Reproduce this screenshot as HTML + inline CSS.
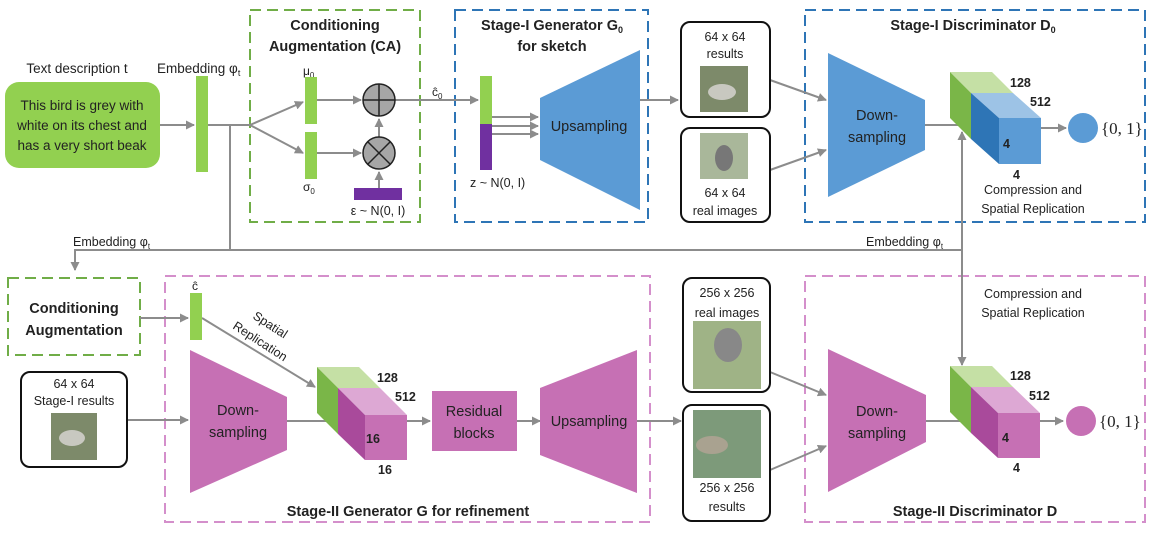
<!DOCTYPE html>
<html><head><meta charset="utf-8"><style>
body{margin:0;background:#fff}
svg{display:block}
text{font-family:"Liberation Sans",sans-serif;fill:#222}
.b{font-weight:bold}
</style></head><body>
<svg width="1157" height="541" viewBox="0 0 1157 541" xmlns="http://www.w3.org/2000/svg">
<defs>
<marker id="a" markerWidth="9" markerHeight="9" refX="8" refY="4.5" orient="auto" markerUnits="userSpaceOnUse"><path d="M0,0 L9,4.5 L0,9 z" fill="#8c8c8c"/></marker>
</defs>
<g fill="none" stroke-width="2" stroke-dasharray="11,6">
<rect x="250" y="10" width="170" height="212" stroke="#70ad47"/>
<rect x="455" y="10" width="193" height="212" stroke="#2e75b6"/>
<rect x="805" y="10" width="340" height="212" stroke="#2e75b6"/>
<rect x="8" y="278" width="132" height="77" stroke="#70ad47"/>
<rect x="165" y="276" width="485" height="246" stroke="#d48fcb"/>
<rect x="805" y="276" width="340" height="246" stroke="#d48fcb"/>
</g>
<g stroke="#8c8c8c" stroke-width="2" fill="none">
<line x1="160" y1="125" x2="194" y2="125" marker-end="url(#a)"/>
<line x1="208" y1="125" x2="250" y2="125"/>
<line x1="250" y1="125" x2="303" y2="102" marker-end="url(#a)"/>
<line x1="250" y1="125" x2="303" y2="153" marker-end="url(#a)"/>
<line x1="316" y1="100" x2="361" y2="100" marker-end="url(#a)"/>
<line x1="316" y1="153" x2="361" y2="153" marker-end="url(#a)"/>
<line x1="379" y1="137" x2="379" y2="119" marker-end="url(#a)"/>
<line x1="379" y1="188" x2="379" y2="172" marker-end="url(#a)"/>
<line x1="395" y1="100" x2="478" y2="100" marker-end="url(#a)"/>
<line x1="492" y1="117" x2="538" y2="117" marker-end="url(#a)"/>
<line x1="492" y1="126" x2="538" y2="126" marker-end="url(#a)"/>
<line x1="492" y1="134" x2="538" y2="134" marker-end="url(#a)"/>
<line x1="640" y1="100" x2="678" y2="100" marker-end="url(#a)"/>
<line x1="770" y1="80" x2="826" y2="100" marker-end="url(#a)"/>
<line x1="770" y1="170" x2="826" y2="150" marker-end="url(#a)"/>
<line x1="925" y1="125" x2="985" y2="125" marker-end="url(#a)"/>
<line x1="1041" y1="128" x2="1066" y2="128" marker-end="url(#a)"/>
<polyline points="230,125 230,250 75,250 75,270" marker-end="url(#a)"/>
<line x1="230" y1="250" x2="962" y2="250"/>
<line x1="962" y1="250" x2="962" y2="132" marker-end="url(#a)"/>
<line x1="962" y1="250" x2="962" y2="365" marker-end="url(#a)"/>
<line x1="140" y1="318" x2="188" y2="318" marker-end="url(#a)"/>
<line x1="202" y1="318" x2="315" y2="387" marker-end="url(#a)"/>
<line x1="127" y1="420" x2="188" y2="420" marker-end="url(#a)"/>
<line x1="287" y1="421" x2="352" y2="421" marker-end="url(#a)"/>
<line x1="407" y1="421" x2="430" y2="421" marker-end="url(#a)"/>
<line x1="517" y1="421" x2="540" y2="421" marker-end="url(#a)"/>
<line x1="637" y1="421" x2="681" y2="421" marker-end="url(#a)"/>
<line x1="770" y1="372" x2="826" y2="395" marker-end="url(#a)"/>
<line x1="770" y1="470" x2="826" y2="446" marker-end="url(#a)"/>
<line x1="925" y1="421" x2="985" y2="421" marker-end="url(#a)"/>
<line x1="1040" y1="421" x2="1063" y2="421" marker-end="url(#a)"/>
</g>
<rect x="5" y="82" width="155" height="86" rx="14" fill="#92d050"/>
<text x="82" y="110" font-size="13.5" text-anchor="middle">This bird is grey with</text>
<text x="82" y="130" font-size="13.5" text-anchor="middle">white on its chest and</text>
<text x="82" y="150" font-size="13.5" text-anchor="middle">has a very short beak</text>
<text x="77" y="73" font-size="13.5" text-anchor="middle">Text description t</text>
<text x="157" y="73" font-size="13.5">Embedding φ<tspan font-size="9" dy="3">t</tspan></text>
<rect x="196" y="76" width="12" height="96" fill="#92d050"/>
<text x="335" y="30" font-size="14.5" class="b" text-anchor="middle">Conditioning</text>
<text x="335" y="51" font-size="14.5" class="b" text-anchor="middle">Augmentation (CA)</text>
<text x="303" y="75" font-size="12">μ<tspan font-size="8" dy="3">0</tspan></text>
<rect x="305" y="77" width="12" height="47" fill="#92d050"/>
<rect x="305" y="132" width="12" height="47" fill="#92d050"/>
<text x="303" y="191" font-size="12">σ<tspan font-size="8" dy="3">0</tspan></text>
<circle cx="379" cy="100" r="16" fill="#a6a6a6" stroke="#222" stroke-width="1.5"/>
<path d="M363,100 H395 M379,84 V116" stroke="#222" stroke-width="1.5"/>
<circle cx="379" cy="153" r="16" fill="#a6a6a6" stroke="#222" stroke-width="1.5"/>
<path d="M368,142 L390,164 M390,142 L368,164" stroke="#222" stroke-width="1.5"/>
<rect x="354" y="188" width="48" height="12" fill="#7030a0"/>
<text x="378" y="215" font-size="12.5" text-anchor="middle">ε ~ N(0, I)</text>
<text x="432" y="96" font-size="12">ĉ<tspan font-size="8" dy="3">0</tspan></text>
<text x="552" y="30" font-size="14.5" class="b" text-anchor="middle">Stage-I Generator G<tspan font-size="9" dy="3">0</tspan></text>
<text x="552" y="51" font-size="14.5" class="b" text-anchor="middle">for sketch</text>
<rect x="480" y="76" width="12" height="48" fill="#92d050"/>
<rect x="480" y="124" width="12" height="46" fill="#7030a0"/>
<text x="470" y="187" font-size="12.5">z ~ N(0, I)</text>
<polygon points="540,98 640,50 640,210 540,160" fill="#5b9bd5"/>
<text x="589" y="131" font-size="14.5" text-anchor="middle">Upsampling</text>
<rect x="681" y="22" width="89" height="95" rx="9" fill="#fff" stroke="#111" stroke-width="2"/>
<text x="725" y="41" font-size="12.5" text-anchor="middle">64 x 64</text>
<text x="725" y="58" font-size="12.5" text-anchor="middle">results</text>
<rect x="700" y="66" width="48" height="46" fill="#7d8a6a"/>
<ellipse cx="722" cy="92" rx="14" ry="8" fill="#c8c8c0"/>
<rect x="681" y="128" width="89" height="94" rx="9" fill="#fff" stroke="#111" stroke-width="2"/>
<rect x="700" y="133" width="48" height="46" fill="#a9b79a"/>
<ellipse cx="724" cy="158" rx="9" ry="13" fill="#777"/>
<text x="725" y="197" font-size="12.5" text-anchor="middle">64 x 64</text>
<text x="725" y="215" font-size="12.5" text-anchor="middle">real images</text>
<text x="973" y="30" font-size="14.5" class="b" text-anchor="middle">Stage-I Discriminator D<tspan font-size="9" dy="3">0</tspan></text>
<polygon points="828,53 925,100 925,150 828,197" fill="#5b9bd5"/>
<text x="877" y="120" font-size="14.5" text-anchor="middle">Down-</text>
<text x="877" y="142" font-size="14.5" text-anchor="middle">sampling</text>
<polygon points="950,72 992,72 1013,93 971,93" fill="#c5e0a5"/>
<polygon points="950,72 971,93 971,139 950,118" fill="#7ab648"/>
<polygon points="971,93 1013,93 1041,118 999,118" fill="#9dc3e6"/>
<polygon points="971,93 999,118 999,164 971,139" fill="#2e75b6"/>
<rect x="999" y="118" width="42" height="46" fill="#5b9bd5"/>
<text x="1010" y="87" font-size="12.5" class="b">128</text>
<text x="1030" y="106" font-size="12.5" class="b">512</text>
<text x="1003" y="148" font-size="12.5" class="b">4</text>
<text x="1013" y="179" font-size="12.5" class="b">4</text>
<circle cx="1083" cy="128" r="15" fill="#5b9bd5"/>
<text x="1101" y="134" font-size="17" style="font-family:'Liberation Serif',serif">{0, 1}</text>
<text x="1033" y="194" font-size="12.5" text-anchor="middle">Compression and</text>
<text x="1033" y="213" font-size="12.5" text-anchor="middle">Spatial Replication</text>
<text x="73" y="246" font-size="12.5">Embedding φ<tspan font-size="8" dy="3">t</tspan></text>
<text x="866" y="246" font-size="12.5">Embedding φ<tspan font-size="8" dy="3">t</tspan></text>
<text x="74" y="313" font-size="14.5" class="b" text-anchor="middle">Conditioning</text>
<text x="74" y="335" font-size="14.5" class="b" text-anchor="middle">Augmentation</text>
<text x="192" y="290" font-size="12">ĉ</text>
<rect x="190" y="293" width="12" height="47" fill="#92d050"/>
<text font-size="12.5" transform="translate(252,318) rotate(33)">Spatial</text>
<text font-size="12.5" transform="translate(232,328) rotate(33)">Replication</text>
<rect x="21" y="372" width="106" height="95" rx="9" fill="#fff" stroke="#111" stroke-width="2"/>
<text x="74" y="388" font-size="12.5" text-anchor="middle">64 x 64</text>
<text x="74" y="405" font-size="12.5" text-anchor="middle">Stage-I results</text>
<rect x="51" y="413" width="46" height="47" fill="#7d8a6a"/>
<ellipse cx="72" cy="438" rx="13" ry="8" fill="#c8c8c0"/>
<polygon points="190,350 287,397 287,450 190,493" fill="#c670b4"/>
<text x="238" y="415" font-size="14.5" text-anchor="middle">Down-</text>
<text x="238" y="437" font-size="14.5" text-anchor="middle">sampling</text>
<polygon points="317,367 359,367 380,388 338,388" fill="#c5e0a5"/>
<polygon points="317,367 338,388 338,434 317,413" fill="#7ab648"/>
<polygon points="338,388 380,388 407,415 365,415" fill="#dda8d4"/>
<polygon points="338,388 365,415 365,460 338,434" fill="#a94a9b"/>
<rect x="365" y="415" width="42" height="45" fill="#c670b4"/>
<text x="377" y="382" font-size="12.5" class="b">128</text>
<text x="395" y="401" font-size="12.5" class="b">512</text>
<text x="366" y="443" font-size="12.5" class="b">16</text>
<text x="378" y="474" font-size="12.5" class="b">16</text>
<rect x="432" y="391" width="85" height="60" fill="#c670b4"/>
<text x="474" y="416" font-size="14.5" text-anchor="middle">Residual</text>
<text x="474" y="438" font-size="14.5" text-anchor="middle">blocks</text>
<polygon points="540,388 637,350 637,493 540,455" fill="#c670b4"/>
<text x="589" y="426" font-size="14.5" text-anchor="middle">Upsampling</text>
<text x="408" y="516" font-size="14.5" class="b" text-anchor="middle">Stage-II Generator G for refinement</text>
<rect x="683" y="278" width="87" height="114" rx="9" fill="#fff" stroke="#111" stroke-width="2"/>
<text x="727" y="297" font-size="12.5" text-anchor="middle">256 x 256</text>
<text x="727" y="317" font-size="12.5" text-anchor="middle">real images</text>
<rect x="693" y="321" width="68" height="68" fill="#9fb386"/>
<ellipse cx="728" cy="345" rx="14" ry="17" fill="#888"/>
<rect x="683" y="405" width="87" height="116" rx="9" fill="#fff" stroke="#111" stroke-width="2"/>
<rect x="693" y="410" width="68" height="68" fill="#7d9a7a"/>
<ellipse cx="712" cy="445" rx="16" ry="9" fill="#a9a290"/>
<text x="727" y="492" font-size="12.5" text-anchor="middle">256 x 256</text>
<text x="727" y="511" font-size="12.5" text-anchor="middle">results</text>
<polygon points="828,349 926,395 926,442 828,492" fill="#c670b4"/>
<text x="877" y="416" font-size="14.5" text-anchor="middle">Down-</text>
<text x="877" y="438" font-size="14.5" text-anchor="middle">sampling</text>
<polygon points="950,366 992,366 1013,387 971,387" fill="#c5e0a5"/>
<polygon points="950,366 971,387 971,433 950,412" fill="#7ab648"/>
<polygon points="971,387 1013,387 1040,413 998,413" fill="#dda8d4"/>
<polygon points="971,387 998,413 998,458 971,433" fill="#a94a9b"/>
<rect x="998" y="413" width="42" height="45" fill="#c670b4"/>
<text x="1010" y="380" font-size="12.5" class="b">128</text>
<text x="1029" y="400" font-size="12.5" class="b">512</text>
<text x="1002" y="442" font-size="12.5" class="b">4</text>
<text x="1013" y="472" font-size="12.5" class="b">4</text>
<circle cx="1081" cy="421" r="15" fill="#c670b4"/>
<text x="1099" y="427" font-size="17" style="font-family:'Liberation Serif',serif">{0, 1}</text>
<text x="1033" y="298" font-size="12.5" text-anchor="middle">Compression and</text>
<text x="1033" y="317" font-size="12.5" text-anchor="middle">Spatial Replication</text>
<text x="975" y="516" font-size="14.5" class="b" text-anchor="middle">Stage-II Discriminator D</text>
</svg>
</body></html>
